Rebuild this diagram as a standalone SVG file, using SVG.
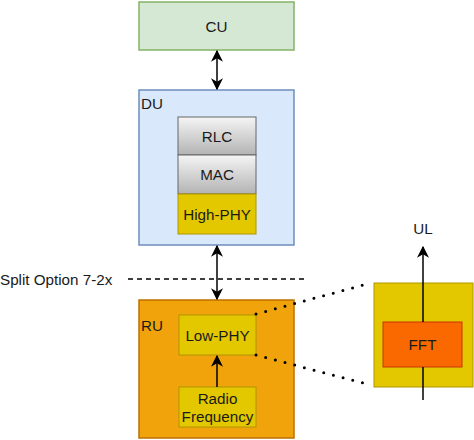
<svg xmlns="http://www.w3.org/2000/svg" width="474" height="440" viewBox="0 0 474 440">
<style>
text{font-family:"Liberation Sans",Arial,sans-serif;font-size:15.2px;fill:#1a1a1a}
.c{text-anchor:middle;dominant-baseline:central}
.conn{stroke:#000;stroke-width:1.5;fill:none}
.dot{stroke:#000;stroke-width:3;stroke-linecap:round;stroke-dasharray:0 10;fill:none}
</style>
<defs>
<linearGradient id="gray" x1="0" y1="0" x2="0" y2="1">
<stop offset="0" stop-color="#f5f5f5"/><stop offset="1" stop-color="#b3b3b3"/>
</linearGradient>
<marker id="ah" viewBox="0 0 10 10" refX="9" refY="5" markerWidth="12" markerHeight="12" markerUnits="userSpaceOnUse" orient="auto-start-reverse">
<path d="M0,0 L10,5 L0,10 L3,5 Z" fill="#000"/>
</marker>
</defs>
<g id="cu"><rect x="139" y="2" width="155" height="48" fill="#d5e8d4" stroke="#82b366" stroke-width="1.5"/><text class="c" x="216.5" y="26">CU</text></g>
<g id="du"><rect x="139" y="90" width="155" height="155" fill="#dae8fc" stroke="#6c8ebf" stroke-width="1.5"/><text x="141" y="109">DU</text></g>
<g id="rlc"><rect x="178" y="117" width="78" height="38" fill="url(#gray)" stroke="#666" stroke-width="1"/><text class="c" x="217" y="136">RLC</text></g>
<g id="mac"><rect x="178" y="155" width="78" height="39" fill="url(#gray)" stroke="#666" stroke-width="1"/><text class="c" x="217" y="174.5">MAC</text></g>
<g id="highphy"><rect x="178" y="194" width="78" height="40" fill="#e3c800" stroke="#b09500" stroke-width="1"/><text class="c" x="217" y="214">High-PHY</text></g>
<g id="split"><text x="0" y="284.5">Split Option 7-2x</text></g>
<g id="ru"><rect x="139" y="300" width="155" height="138" fill="#f0a30a" stroke="#bd7000" stroke-width="1.5"/><text x="141" y="331">RU</text></g>
<g id="lowphy"><rect x="179" y="315" width="77" height="40" fill="#e3c800" stroke="#b09500" stroke-width="1"/><text class="c" x="217.5" y="335">Low-PHY</text></g>
<g id="rf"><rect x="179" y="387" width="77" height="40" fill="#e3c800" stroke="#b09500" stroke-width="1"/><text class="c" x="217.5" y="398">Radio</text><text class="c" x="217.5" y="416">Frequency</text></g>
<g id="detail"><rect x="374" y="283" width="99" height="104" fill="#e3c800" stroke="#b09500" stroke-width="1"/></g>
<g id="fft"><rect x="383" y="322" width="79" height="45" fill="#fa6800" stroke="#c73500" stroke-width="1"/><text class="c" x="422.5" y="344.5">FFT</text></g>
<g id="ul"><text class="c" x="423" y="228">UL</text></g>
<g id="connectors">
<line class="conn" x1="217" y1="51" x2="217" y2="89" marker-start="url(#ah)" marker-end="url(#ah)"/>
<line class="conn" x1="217" y1="246" x2="217" y2="299" marker-start="url(#ah)" marker-end="url(#ah)"/>
<line class="conn" x1="217" y1="387" x2="217" y2="356" marker-end="url(#ah)"/>
<line x1="128" y1="279" x2="308" y2="279" stroke="#000" stroke-width="1.4" stroke-dasharray="5 4"/>
<line class="conn" x1="423" y1="400" x2="423" y2="367"/>
<line class="conn" x1="423" y1="322" x2="423" y2="247" marker-end="url(#ah)"/>
<line class="dot" x1="256" y1="314" x2="367" y2="284"/>
<line class="dot" x1="256" y1="355" x2="367" y2="384"/>
</g>
</svg>
